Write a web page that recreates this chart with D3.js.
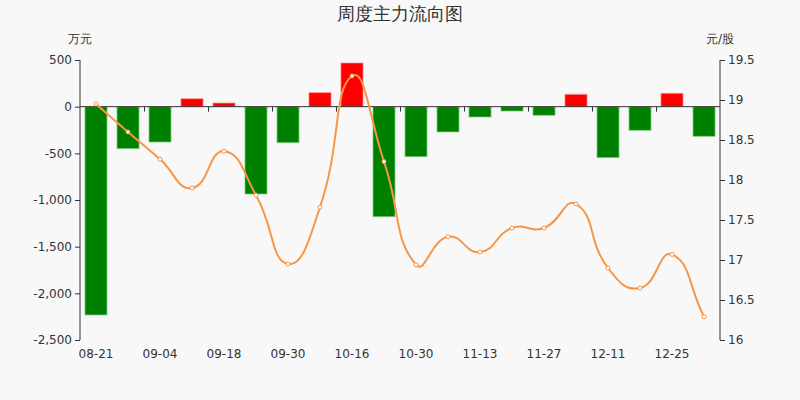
<!DOCTYPE html>
<html><head><meta charset="utf-8">
<script src="https://cdn.jsdelivr.net/npm/d3@7"></script>
<style>body{margin:0;background:#f8f8f8;}svg{display:block;font-family:"DejaVu Sans",sans-serif;}</style>
</head><body><svg id="c" width="800" height="400"></svg>
<script>
const categories = ["08-21","08-28","09-04","09-11","09-18","09-25","09-30","10-09","10-16","10-23","10-30","11-06","11-13","11-20","11-27","12-04","12-11","12-18","12-25","12-31"];
const flowValues = [-2232,-450,-379,85,39,-936,-386,150,468,-1179,-536,-271,-111,-47,-93,132,-546,-254,143,-318];
const priceValues = [18.95,18.60,18.26,17.90,18.36,17.81,16.95,17.66,19.30,18.23,16.94,17.29,17.10,17.40,17.40,17.70,16.90,16.65,17.07,16.29];
const leftTicks = [500,0,-500,-1000,-1500,-2000,-2500];
const rightTicks = [19.5,19,18.5,18,17.5,17,16.5,16];
const title = "周度主力流向图";
const leftUnit = "万元", rightUnit = "元/股";

const svg = d3.select("#c");
svg.append("rect").attr("width",800).attr("height",400).attr("fill","#f8f8f8");
const L=80,R=720,T=60,B=340;
const x = d3.scaleBand().domain(categories).range([L,R]).paddingInner(0.31).paddingOuter(0.155);
const xb = d3.scaleBand().domain(categories).range([L,R]);
const yL = d3.scaleLinear().domain([-2500,500]).range([B,T]);
const yR = d3.scaleLinear().domain([16,19.5]).range([B,T]);
const txt="#333";

svg.append("text").attr("x",400).attr("y",20).attr("text-anchor","middle").attr("font-size",18).attr("fill",txt).text(title);
svg.append("text").attr("x",80).attr("y",43).attr("text-anchor","middle").attr("font-size",12).attr("fill",txt).text(leftUnit);
svg.append("text").attr("x",720).attr("y",43).attr("text-anchor","middle").attr("font-size",12).attr("fill",txt).text(rightUnit);

// bars
svg.append("g").selectAll("rect").data(flowValues).join("rect")
  .attr("x",(d,i)=>x(categories[i]))
  .attr("width",x.bandwidth())
  .attr("y",d=>d>=0?yL(d):yL(0))
  .attr("height",d=>Math.abs(yL(d)-yL(0)))
  .attr("fill",d=>d>=0?"#ff0000":"#008000")
  .attr("stroke",d=>d>=0?"rgba(255,140,140,0.7)":"rgba(140,210,140,0.7)")
  .attr("stroke-width",1);

const fmt = d3.format(",");
// left axis
const ga = svg.append("g").attr("transform",`translate(${L},0)`)
  .call(d3.axisLeft(yL).tickValues(leftTicks).tickSize(5).tickPadding(3).tickFormat(d=>fmt(d).replace("\u2212","-")));
ga.select(".domain").attr("stroke",txt).attr("d",`M-0,${T}V${B}`);
ga.selectAll(".tick line").attr("stroke",txt);
ga.selectAll("text").attr("font-size",12).attr("fill",txt).attr("font-family","DejaVu Sans");

const gr = svg.append("g").attr("transform",`translate(${R},0)`)
  .call(d3.axisRight(yR).tickValues(rightTicks).tickSize(5).tickPadding(3).tickFormat(d=>String(d)));
gr.select(".domain").attr("stroke",txt).attr("d",`M0,${T}V${B}`);
gr.selectAll(".tick line").attr("stroke",txt);
gr.selectAll("text").attr("font-size",12).attr("fill",txt).attr("font-family","DejaVu Sans");

// zero line x-axis
const y0 = yL(0);
svg.append("line").attr("x1",L).attr("x2",R).attr("y1",y0).attr("y2",y0).attr("stroke",txt).attr("stroke-width",1);
const tickCats = categories.filter((c,i)=>i%2===1 && i<categories.length-1);
svg.append("g").selectAll("line").data(tickCats).join("line")
  .attr("x1",d=>Math.round(xb(d)+xb.bandwidth())+0.5).attr("x2",d=>Math.round(xb(d)+xb.bandwidth())+0.5)
  .attr("y1",y0).attr("y2",y0+5).attr("stroke",txt);
svg.append("g").selectAll("text").data(categories.filter((c,i)=>i%2===0)).join("text")
  .attr("x",d=>xb(d)+xb.bandwidth()/2).attr("y",358).attr("text-anchor","middle")
  .attr("font-size",12).attr("fill",txt).text(d=>d);

// smooth line (echarts-like)
const pts = priceValues.map((v,i)=>[xb(categories[i])+xb.bandwidth()/2, yR(v)]);
function smoothPath(p, s){
  const path = d3.path();
  path.moveTo(p[0][0],p[0][1]);
  const n=p.length;
  const cpOut=[], cpIn=[];
  for(let i=0;i<n;i++){
    const prev=p[Math.max(0,i-1)], next=p[Math.min(n-1,i+1)], cur=p[i];
    const vx=next[0]-prev[0], vy=next[1]-prev[1];
    const l0=Math.hypot(cur[0]-prev[0],cur[1]-prev[1]), l1=Math.hypot(next[0]-cur[0],next[1]-cur[1]);
    const r = (l0+l1)>0 ? l1/(l0+l1) : 0.5;
    cpIn[i]=[cur[0]-vx*s*(1-r), cur[1]-vy*s*(1-r)];
    cpOut[i]=[cur[0]+vx*s*r, cur[1]+vy*s*r];
  }
  for(let i=1;i<n;i++){
    path.bezierCurveTo(cpOut[i-1][0],cpOut[i-1][1],cpIn[i][0],cpIn[i][1],p[i][0],p[i][1]);
  }
  return path.toString();
}
svg.append("path").attr("d",smoothPath(pts,0.5)).attr("fill","none").attr("stroke","#f79646").attr("stroke-width",2);
svg.append("g").selectAll("circle").data(priceValues).join("circle")
  .attr("cx",(d,i)=>xb(categories[i])+xb.bandwidth()/2).attr("cy",d=>yR(d)).attr("r",2)
  .attr("fill","#fff").attr("stroke","#f79646").attr("stroke-width",1);
</script></body></html>
